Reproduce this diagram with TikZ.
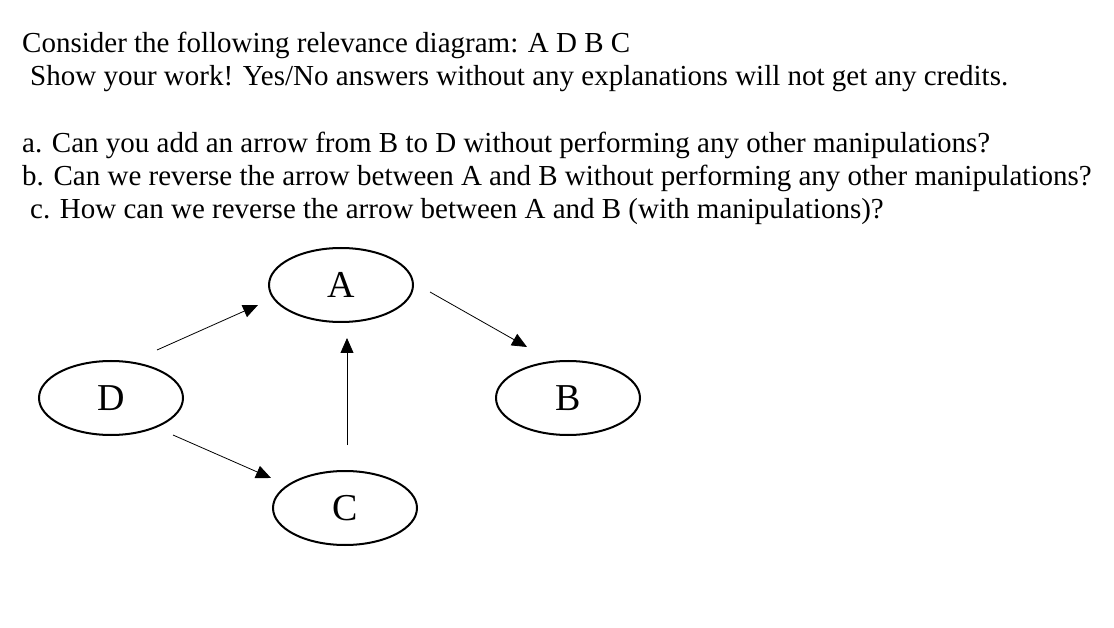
\documentclass[tikz,border=0pt]{standalone}
\usepackage{fontspec}
\setmainfont{Liberation Serif}
\usetikzlibrary{arrows.meta,shapes.geometric}
\begin{document}
\begin{tikzpicture}[x=1pt,y=-1pt,
  txt/.style={anchor=west,inner sep=0pt,font=\fontsize{29}{34}\selectfont},
  var/.style={draw,ellipse,line width=2pt,minimum width=144pt,minimum height=74pt,font=\fontsize{38}{44}\selectfont},
  arr/.style={-{Triangle[length=15pt,width=13pt]},line width=0.8pt,shorten >=0pt}]
\useasboundingbox (0,0) rectangle (1114,628);
\node[txt] (t1) at (22,45) {Consider the following relevance diagram: A D B C};
\node[txt] (t2) at (30,79) {Show your work! Yes/No answers without any explanations will not get any credits.};
\node[txt] (ta) at (22,145) {a. Can you add an arrow from B to D without performing any other manipulations?};
\node[txt] (tb) at (22,178) {b. Can we reverse the arrow between A and B without performing any other manipulations?};
\node[txt] (tc) at (30,212) {c. How can we reverse the arrow between A and B (with manipulations)?};
\node[var] (A) at (341,285) {A};
\node[var] (D) at (111,398) {D};
\node[var] (B) at (568,398) {B};
\node[var] (C) at (345,508) {C};
\coordinate (da1) at (157,350); \coordinate (da2) at (258,305);
\coordinate (ab1) at (430,292); \coordinate (ab2) at (527,347);
\coordinate (ca1) at (347,445); \coordinate (ca2) at (347,338);
\coordinate (dc1) at (173,435); \coordinate (dc2) at (271,478);
\draw[arr] (da1) -- (da2);
\draw[arr] (ab1) -- (ab2);
\draw[arr] (ca1) -- (ca2);
\draw[arr] (dc1) -- (dc2);
\end{tikzpicture}
\end{document}
